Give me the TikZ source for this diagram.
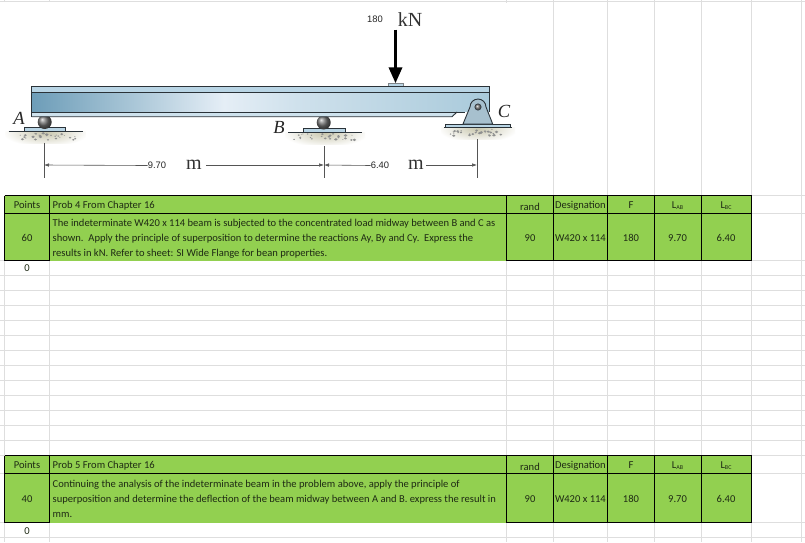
\documentclass[tikz,border=0pt]{standalone}
\usepackage{fontspec}
\setmainfont{Carlito}
\newfontfamily\arialf{Liberation Sans}
\newfontfamily\timesf{Liberation Serif}
\usetikzlibrary{arrows.meta}
\definecolor{cellgreen}{HTML}{92D050}
\definecolor{gridgrey}{HTML}{DEDEDE}
\definecolor{steel}{HTML}{B9D5E5}
\definecolor{steeldark}{HTML}{2A3238}
\definecolor{sheettext}{HTML}{1E2A14}
\definecolor{dimline}{HTML}{555555}
\definecolor{groundc}{HTML}{C9C7AE}
\definecolor{speck}{HTML}{8F9090}
\definecolor{wa}{HTML}{6D9DB8}
\definecolor{wb}{HTML}{A9C6D7}
\definecolor{wc}{HTML}{E5EEF6}
\definecolor{wd}{HTML}{CFE1EC}
\definecolor{we}{HTML}{A9CADB}
\pgfdeclarehorizontalshading{webshade}{100bp}{
  color(0bp)=(wa);
  color(25bp)=(wa);
  color(36bp)=(wb);
  color(46bp)=(wc);
  color(54bp)=(wd);
  color(75bp)=(we);
  color(100bp)=(we)}
\tikzset{
  grid line/.style={draw=gridgrey,line width=0.9pt},
  table line/.style={draw=black,line width=1pt},
  sheet/.style={font=\fontsize{10.55}{12}\selectfont,text=sheettext,inner sep=0pt},
  para/.style={sheet,anchor=base west},
  cell/.style={sheet,anchor=base},
  steel edge/.style={draw=steeldark,line width=0.9pt},
  dim/.style={draw=dimline,line width=0.6pt},
  dim tip/.style={-{Latex[length=5pt,width=3.5pt]}},
  ital/.style={font=\timesf\itshape\fontsize{18.5}{18.5}\selectfont,text=black!85,inner sep=0pt},
  unit/.style={font=\timesf\fontsize{20}{20}\selectfont,text=black!80,inner sep=0pt},
  dimnum/.style={font=\arialf\fontsize{9.4}{11}\selectfont,text=black!85,inner sep=0pt},
}
\newcommand{\groundpatch}[3]{% centre x, ground y, half width
  \begin{scope}
    \clip (#1-#3-3,#2) rectangle (#1+#3+3,#2+12);
    \shade[inner color=groundc,outer color=white] (#1,#2+1) ellipse [x radius=#3+6,y radius=14];
  \end{scope}
  \pgfmathsetseed{#1}
  \foreach \i in {1,...,30}{
    \pgfmathsetmacro{\px}{#1+(rnd*2-1)*(#3-6)}
    \pgfmathsetmacro{\py}{#2+1.5+rnd*7}
    \pgfmathsetmacro{\pr}{0.5+rnd*1.4}
    \fill[speck] (\px,\py) ellipse [x radius=\pr,y radius=\pr*0.7];
  }
  \draw[steeldark,line width=0.6pt] (#1-#3,#2) -- (#1+#3,#2);
}
\begin{document}
\begin{tikzpicture}[x=1pt,y=-1pt]
\useasboundingbox (0,0) rectangle (805,542);
\fill[white] (0,0) rectangle (805,542);

% --- sheet grid ---
\draw[grid line] (0,1.5) -- (805,1.5);
\foreach \x in {4.5,49.5} \draw[grid line] (\x,0) -- (\x,1.5);
\foreach \x in {506.5} \draw[grid line] (\x,0) -- (\x,3);
\foreach \x in {553.5,607.5,654.5,701.5,751.5,801.5} \draw[grid line] (\x,0) -- (\x,195.5);
\foreach \y in {195.5,213.5} \draw[grid line] (751.5,\y) -- (805,\y);
\foreach \y in {260.5,275,290,305,320,335,350,365,380,395,410,425,440,455.5,473.5,522.5,537}
  \draw[grid line] (0,\y) -- (805,\y);
\foreach \x in {4.5,49.5,506.5,553.5,607.5,654.5,701.5,751.5,801.5}{
  \draw[grid line] (\x,260.5) -- (\x,455.5);
  \draw[grid line] (\x,522.5) -- (\x,542);
}
\draw[grid line] (801.5,195.5) -- (801.5,260.5);
\draw[grid line] (801.5,455.5) -- (801.5,522.5);

% --- tables ---
\foreach \t/\h/\b in {195.5/213.5/260.5,455.5/473.5/522.5}{
  \fill[cellgreen] (4.5,\t) rectangle (751.5,\b);
  \draw[table line] (4.5,\t) -- (751.5,\t) (4.5,\h) -- (751.5,\h);
  \draw[table line] (4.5,\b) -- (49.5,\b) (506.5,\b) -- (751.5,\b);
  \foreach \x in {4.5,49.5,506.5,553.5,607.5,654.5,701.5,751.5}
    \draw[table line] (\x,\t) -- (\x,\b);
}

% --- table 1 text ---
\node[cell] (p1) at (27,208) {Points};
\node[para] (t1h) at (52.5,208) {Prob 4 From Chapter 16};
\node[para] (t1a) at (52.5,226) {The indeterminate W420 x 114 beam is subjected to the concentrated load midway between B and C as};
\node[para] (t1b) at (52.5,241) {shown.\ \ Apply the principle of superposition to determine the reactions Ay, By and Cy.\ \ Express the};
\node[para] (t1c) at (52.5,256) {results in kN. Refer to sheet: SI Wide Flange for bean properties.};
\node[cell] (v60) at (27,241) {60};
\node[cell] (z1) at (27,271.5) {0};
\node[cell] (r1) at (530,210.3) {rand};
\node[cell] (d1) at (580.4,208) {Designation};
\node[cell] (f1) at (631,208) {F};
\node[cell] (lab1) at (677.5,208.2) {L\raisebox{-1pt}{\fontsize{6}{6}\selectfont AB}};
\node[cell] (lbc1) at (726,208.2) {L\raisebox{-1pt}{\fontsize{6}{6}\selectfont BC}};
\node[cell] (a1) at (530,241) {90};
\node[cell] (b1) at (580.4,241) {W420 x 114};
\node[cell] (c1) at (631,241) {180};
\node[cell] (e1) at (677.5,241) {9.70};
\node[cell] (g1) at (726,241) {6.40};

% --- table 2 text ---
\node[cell] (p2) at (27,468) {Points};
\node[para] (t2h) at (52.5,468) {Prob 5 From Chapter 16};
\node[para] (t2a) at (52.5,487) {Continuing the analysis of the indeterminate beam in the problem above, apply the principle of};
\node[para] (t2b) at (52.5,502) {superposition and determine the deflection of the beam midway between A and B. express the result in};
\node[para] (t2c) at (52.5,517) {mm.};
\node[cell] (v40) at (27,502) {40};
\node[cell] (z2) at (27,534) {0};
\node[cell] (r2) at (530,470.3) {rand};
\node[cell] (d2) at (580.4,468) {Designation};
\node[cell] (f2) at (631,468) {F};
\node[cell] (lab2) at (677.5,468.2) {L\raisebox{-1pt}{\fontsize{6}{6}\selectfont AB}};
\node[cell] (lbc2) at (726,468.2) {L\raisebox{-1pt}{\fontsize{6}{6}\selectfont BC}};
\node[cell] (a2) at (530,502) {90};
\node[cell] (b2) at (580.4,502) {W420 x 114};
\node[cell] (c2) at (631,502) {180};
\node[cell] (e2) at (677.5,502) {9.70};
\node[cell] (g2) at (726,502) {6.40};

% --- ground and supports ---
\groundpatch{45.5}{131.5}{37}
\groundpatch{325}{132}{37}
\groundpatch{478}{127.5}{34}
\fill[steel,steel edge] (24.3,127.5) rectangle (65.3,131.5);
\fill[steel,steel edge] (303.3,128) rectangle (345,132);
\shade[ball color=black!55] (44.7,122) circle (7);
\shade[ball color=black!55] (323.7,122.5) circle (7);

% --- beam ---
\shade[shading=webshade] (31.7,92.7) rectangle (489.3,112);
\fill[white] (457,112.4) rectangle (490,118);
\fill[steel] (31.7,86) rectangle (489.3,92.7);
\fill[steel!70!white] (31.7,112) -- (457,112) -- (452,116.7) -- (31.7,116.7) -- cycle;
\draw[steel edge] (31.7,116.7) -- (31.7,86) -- (489.3,86) -- (489.3,112);
\draw[steeldark,line width=1.3pt] (31.7,92.7) -- (489.3,92.7);
\draw[steel edge] (31.7,112) -- (465,112);
\draw[steel edge] (31.7,116.7) -- (452,116.7) -- (457,112);
\fill[steel] (388.3,83.3) rectangle (403.3,86);
\draw[steeldark!60,line width=0.4pt] (388.3,86) -- (388.3,83.3) -- (403.3,83.3) -- (403.3,86);

% --- pin support C ---
\fill[steel,steel edge] (445.7,124) rectangle (510.7,127.5);
\fill[steel!90!black,steel edge] (463,124) -- (470,107) arc[start angle=180,end angle=360,radius=8] -- (492.7,124) -- cycle;
\shade[ball color=black!50] (478,107) circle (3);
\draw[steeldark,line width=0.6pt] (478,107) circle (3.2);

% --- labels ---
\node[ital] (lA) at (19,118) {A};
\node[ital] (lB) at (279,127.5) {B};
\node[ital] (lC) at (504,111) {C};

% --- load ---
\node[dimnum] (f180) at (375,19.5) {180};
\node[unit] (kn) at (410,19.5) {kN};
\coordinate (loadtop) at (395.5,29.5);
\coordinate (loadpad) at (395.5,83.3);
\draw[black,line width=3.4pt,-{Triangle[length=16pt,width=13pt]}] (loadtop) -- (loadpad);

% --- dimensions ---
\coordinate (exAt) at (44,142.5);
\coordinate (exAb) at (44,177.5);
\coordinate (exBt) at (324,146);
\coordinate (exBb) at (324,177.5);
\coordinate (exCt) at (477,139);
\coordinate (exCb) at (477,177.5);
\coordinate (dA) at (44,165);
\coordinate (dB) at (324,165);
\coordinate (dC) at (477,165);
\draw[dim] (exAt) -- (exAb);
\draw[dim] (exBt) -- (exBb);
\draw[dim] (exCt) -- (exCb);
\node[dimnum] (n970) at (157,165.5) {9.70};
\node[unit] (m1) at (194,165) {m};
\node[dimnum] (n640) at (380,165.5) {6.40};
\node[unit] (m2) at (416,165) {m};
\draw[dim,dim tip] (n970.west) -- (dA);
\draw[dim,dim tip] (206,165) -- (dB);
\draw[dim,dim tip] (n640.west) -- (dB);
\draw[dim,dim tip] (426,165) -- (dC);
\end{tikzpicture}
\end{document}
